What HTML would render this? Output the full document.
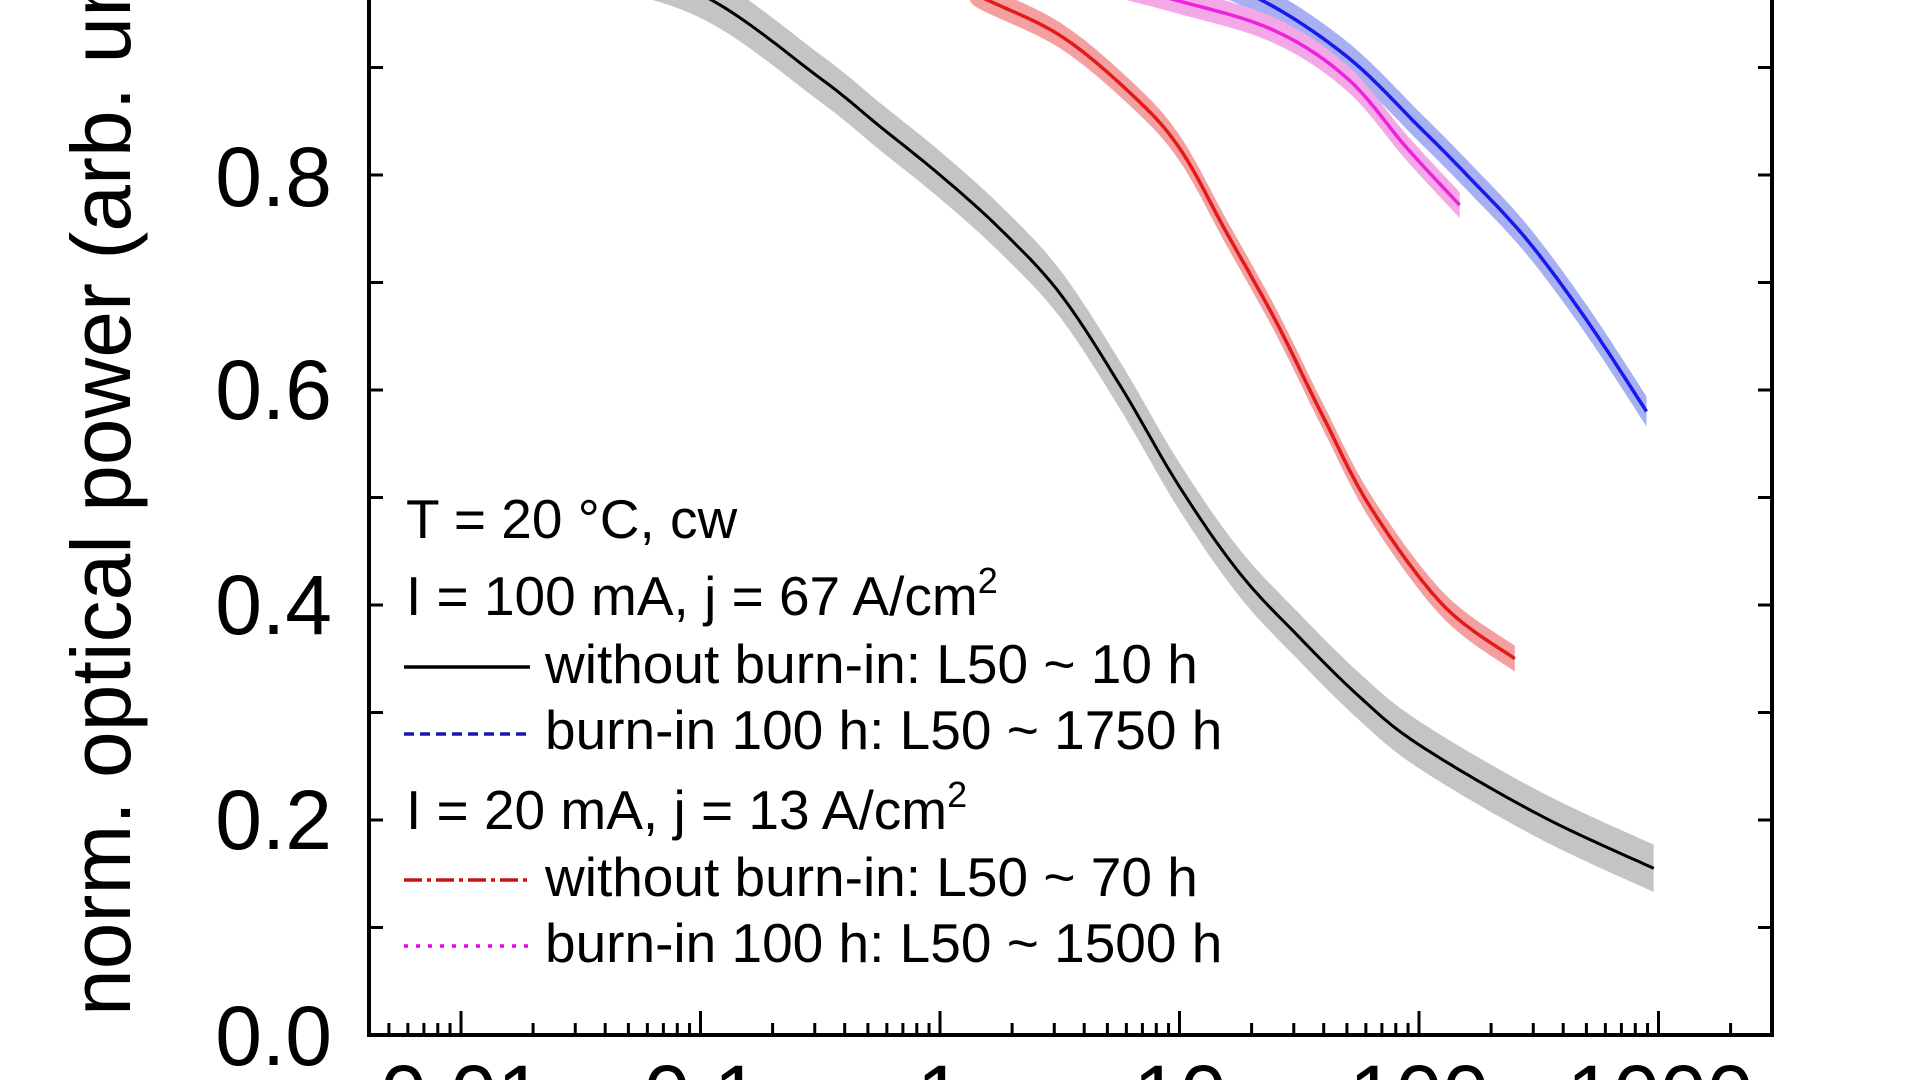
<!DOCTYPE html>
<html><head><meta charset="utf-8"><style>
html,body{margin:0;padding:0;background:#fff;width:1920px;height:1080px;overflow:hidden}
svg{display:block}
text{font-family:"Liberation Sans",Arial,sans-serif}
</style></head><body>
<svg id="s" width="1920" height="1080" viewBox="0 0 1920 1080" xmlns="http://www.w3.org/2000/svg">
<g id="bands"></g>
<g id="lines"></g>
<g id="axes" stroke="#000" stroke-width="4" fill="none">
<line x1="369" y1="-10" x2="369" y2="1037"/>
<line x1="1772" y1="-10" x2="1772" y2="1037"/>
<line x1="367" y1="1035" x2="1774" y2="1035"/>
</g>
<g id="ticks" stroke="#000" stroke-width="3"></g>
<g font-size="84" fill="#000" text-anchor="end">
<text x="332" y="206">0.8</text>
<text x="332" y="419">0.6</text>
<text x="332" y="634">0.4</text>
<text x="332" y="849">0.2</text>
<text x="332" y="1065">0.0</text>
</g>
<g font-size="84" fill="#000" text-anchor="middle">
<text x="462" y="1124">0.01</text>
<text x="702" y="1124">0.1</text>
<text x="940" y="1124">1</text>
<text x="1180" y="1124">10</text>
<text x="1419" y="1124">100</text>
<text x="1660" y="1124">1000</text>
</g>
<text transform="translate(130,1016) rotate(-90)" font-size="84" fill="#000">norm. optical power (arb. units)</text>
<g font-size="55" fill="#000">
<text x="406" y="538">T = 20 °C, cw</text>
<text x="406" y="615">I = 100 mA, j = 67 A/cm<tspan dy="-22" font-size="36">2</tspan></text>
<text x="545" y="683">without burn-in: L50 ~ 10 h</text>
<text x="545" y="749">burn-in 100 h: L50 ~ 1750 h</text>
<text x="406" y="829">I = 20 mA, j = 13 A/cm<tspan dy="-22" font-size="36">2</tspan></text>
<text x="545" y="896">without burn-in: L50 ~ 70 h</text>
<text x="545" y="962">burn-in 100 h: L50 ~ 1500 h</text>
</g>
<g stroke-width="3.5" fill="none">
<line x1="404" y1="667" x2="530" y2="667" stroke="#000"/>
<line x1="404" y1="734" x2="530" y2="734" stroke="#1a1aa0" stroke-dasharray="10,6"/>
<line x1="404" y1="880" x2="530" y2="880" stroke="#cc1111" stroke-dasharray="18,5,4,5"/>
<line x1="404" y1="946" x2="530" y2="946" stroke="#ee00ee" stroke-dasharray="4,8"/>
</g>
</svg>
<script>
var NS="http://www.w3.org/2000/svg";
function X(l){return 940+l*239.5}
function Y(v){return 1035-v*1075}
function el(p,t,a){var e=document.createElementNS(NS,t);for(var k in a)e.setAttribute(k,a[k]);p.appendChild(e);return e}
function interp(pts){var out=[];for(var i=0;i<pts.length-1;i++){var p0=pts[Math.max(0,i-1)],p1=pts[i],p2=pts[i+1],p3=pts[Math.min(pts.length-1,i+2)];for(var t=0;t<1;t+=0.05){var t2=t*t,t3=t2*t;var f=function(a,b,c,d){return 0.5*((2*b)+(-a+c)*t+(2*a-5*b+4*c-d)*t2+(-a+3*b-3*c+d)*t3)};out.push([f(p0[0],p1[0],p2[0],p3[0]),f(p0[1],p1[1],p2[1],p3[1])]);}}out.push(pts[pts.length-1]);return out}
function path(pts,off){return pts.map(function(p,i){return (i?"L":"M")+X(p[0]).toFixed(1)+","+Y(p[1]+off).toFixed(1)}).join("")}
function band(pts,w,col){var a=pts.map(function(p){return X(p[0]).toFixed(1)+","+Y(p[1]+w).toFixed(1)});var b=pts.slice().reverse().map(function(p){return X(p[0]).toFixed(1)+","+Y(p[1]-w).toFixed(1)});el(document.getElementById("bands"),"polygon",{points:a.concat(b).join(" "),fill:col})}
var black=interp([[-2.4,1.0],[-1.5,0.995],[-1,0.968],[-0.5,0.89],[-0.25,0.845],[0,0.80],[0.25,0.75],[0.5,0.69],[0.75,0.605],[1,0.51],[1.25,0.43],[1.5,0.37],[1.75,0.315],[2,0.27],[2.5,0.205],[2.98,0.155]]);
var red=interp([[-1,1.02],[0,0.99],[0.16,0.967],[0.5,0.93],[0.8,0.875],[1,0.825],[1.2,0.745],[1.4,0.665],[1.6,0.575],[1.8,0.49],[2.1,0.40],[2.4,0.35]]);
var blue=interp([[0.5,1.0],[1,0.99],[1.34,0.963],[1.7,0.91],[2,0.845],[2.2,0.80],[2.45,0.74],[2.7,0.665],[2.95,0.58]]);
var mag=interp([[0.5,0.99],[0.98,0.963],[1.39,0.935],[1.7,0.89],[1.95,0.825],[2.17,0.772]]);
band(black,0.022,"#c4c4c4");
band(red,0.012,"#f4a0a0");
band(blue,0.014,"#a8b0f4");
band(mag,0.012,"#f4a8e8");
var L=document.getElementById("lines");
el(L,"path",{d:path(black,0),stroke:"#000","stroke-width":3,fill:"none"});
el(L,"path",{d:path(red,0),stroke:"#e31a1a","stroke-width":3.5,fill:"none"});
el(L,"path",{d:path(blue,0),stroke:"#1a1ae8","stroke-width":3.5,fill:"none"});
el(L,"path",{d:path(mag,0),stroke:"#ee22dd","stroke-width":3.5,fill:"none"});
var T=document.getElementById("ticks");
for(var d=-3;d<=3;d++){for(var m=1;m<10;m++){var l=d+Math.log10(m);var x=X(l);if(x<372||x>1770)continue;var len=(m==1)?24:12;el(T,"line",{x1:x,y1:1035,x2:x,y2:1035-len});}}
for(var v=0;v<=1.0001;v+=0.1){var y=Y(v);if(y<0)continue;el(T,"line",{x1:369,y1:y,x2:383,y2:y});el(T,"line",{x1:1772,y1:y,x2:1758,y2:y});}
</script>
</body></html>
